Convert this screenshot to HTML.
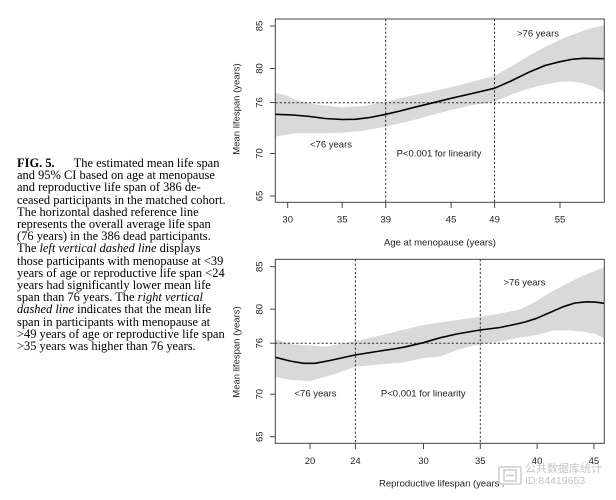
<!DOCTYPE html>
<html>
<head>
<meta charset="utf-8">
<style>
  html,body{margin:0;padding:0;background:#fff;}
  body{width:616px;height:500px;position:relative;overflow:hidden;}
  .cap{position:absolute;left:17px;top:157px;font-family:"Liberation Serif","Times New Roman",serif;font-size:12.45px;line-height:12.2px;color:#000;white-space:nowrap;}
  .gap{display:inline-block;width:19px;}
  svg{position:absolute;left:0;top:0;}
  svg text{font-family:"Liberation Sans",Arial,sans-serif;fill:#222;}
</style>
</head>
<body>
<div class="cap"><b>FIG. 5.</b><span class="gap"></span>The estimated mean life span<br>and 95% CI based on age at menopause<br>and reproductive life span of 386 de-<br>ceased participants in the matched cohort.<br>The horizontal dashed reference line<br>represents the overall average life span<br>(76 years) in the 386 dead participants.<br>The <i>left vertical dashed line</i> displays<br>those participants with menopause at &lt;39<br>years of age or reproductive life span &lt;24<br>years had significantly lower mean life<br>span than 76 years. The <i>right vertical</i><br><i>dashed line</i> indicates that the mean life<br>span in participants with menopause at<br>&gt;49 years of age or reproductive life span<br>&gt;35 years was higher than 76 years.</div>

<svg width="616" height="500" viewBox="0 0 616 500" xmlns="http://www.w3.org/2000/svg">
  <!-- ============ TOP PLOT ============ -->
  <polygon fill="#d9d9d9" stroke="none" points="275.5,92.7 286,95.5 296.7,100 315,104.5 341.7,107.3 365,106 385.7,101.7 410,96 430,92 451,87.3 475,81 494.3,76 512,66 530,55 545,47 563.3,38.3 585,30 604.3,25 604.3,91.7 595,87 583.3,83.3 572,81.5 560,81.7 545,84.5 530,88.3 510,95 494.3,101.7 470,105.5 451,110 430,115.5 410,121 385.7,126.7 365,130.5 341.7,132.7 320,133.2 296.7,133.3 286,134.8 275.5,136.7"/>
  <line x1="275.5" y1="102.7" x2="604.3" y2="102.7" stroke="#333" stroke-width="1" stroke-dasharray="2.2,2"/>
  <line x1="385.7" y1="19" x2="385.7" y2="202.3" stroke="#333" stroke-width="1" stroke-dasharray="2.2,2"/>
  <line x1="494.5" y1="19" x2="494.5" y2="202.3" stroke="#333" stroke-width="1" stroke-dasharray="2.2,2"/>
  <polyline fill="none" stroke="#000" stroke-width="1.6" stroke-linejoin="round" points="275.5,114.3 293,115 310,116.5 325,118.5 341.7,119.5 355,119.3 370,117.5 385.7,114.3 400,111 416.7,106.7 435,102.3 451,98.3 470,94 494.3,88.3 510,81.5 530,71.7 545,65.5 560,61.7 572,59.3 583.3,58.3 604.3,58.7"/>
  <rect x="275.3" y="19" width="329" height="183.3" fill="none" stroke="#444" stroke-width="1"/>
  <g stroke="#444" stroke-width="1">
    <line x1="270" y1="26" x2="275.3" y2="26"/>
    <line x1="270" y1="68.5" x2="275.3" y2="68.5"/>
    <line x1="270" y1="102.5" x2="275.3" y2="102.5"/>
    <line x1="270" y1="153.5" x2="275.3" y2="153.5"/>
    <line x1="270" y1="196" x2="275.3" y2="196"/>
    <line x1="287.7" y1="202.3" x2="287.7" y2="208"/>
    <line x1="342.2" y1="202.3" x2="342.2" y2="208"/>
    <line x1="385.7" y1="202.3" x2="385.7" y2="208"/>
    <line x1="451.1" y1="202.3" x2="451.1" y2="208"/>
    <line x1="494.6" y1="202.3" x2="494.6" y2="208"/>
    <line x1="560" y1="202.3" x2="560" y2="208"/>
  </g>
  <g font-size="9.5" text-anchor="middle" dominant-baseline="central">
    <text x="260" y="26" transform="rotate(-90 260 26)">85</text>
    <text x="260" y="68.5" transform="rotate(-90 260 68.5)">80</text>
    <text x="260" y="102.5" transform="rotate(-90 260 102.5)">76</text>
    <text x="260" y="153.5" transform="rotate(-90 260 153.5)">70</text>
    <text x="260" y="196" transform="rotate(-90 260 196)">65</text>
    <text x="287.7" y="220">30</text>
    <text x="342.2" y="220">35</text>
    <text x="385.7" y="220">39</text>
    <text x="451.1" y="220">45</text>
    <text x="494.6" y="220">49</text>
    <text x="560" y="220">55</text>
    <text x="440" y="243">Age at menopause (years)</text>
    <text x="237" y="109" transform="rotate(-90 237 109)">Mean lifespan (years)</text>
    <text x="331" y="145">&lt;76 years</text>
    <text x="439" y="154">P&lt;0.001 for linearity</text>
    <text x="538" y="34">&gt;76 years</text>
  </g>

  <!-- ============ BOTTOM PLOT ============ -->
  <polygon fill="#d9d9d9" stroke="none" points="275.3,339.3 293.3,344.5 310,345.5 326.7,346.5 355,341 380,335.5 400,330.5 423.3,325 440,322.5 456.7,320 480,316.7 500,313.5 520,309.5 536.7,301 550,292.5 563.3,285.5 580,277 604.3,267.3 604.3,338.3 595,334 583.3,331.7 570,330.5 553.3,330.5 536.7,335 520,337.5 500,341.5 480,344 456.7,350 440,356.5 423.3,358 403.3,362.5 380,364.5 355,366.7 335,374 310,381 290,380 275.3,376.7"/>
  <line x1="275.3" y1="343.2" x2="604.3" y2="343.2" stroke="#333" stroke-width="1" stroke-dasharray="2.2,2"/>
  <line x1="355.4" y1="259.3" x2="355.4" y2="443.3" stroke="#333" stroke-width="1" stroke-dasharray="2.2,2"/>
  <line x1="480.3" y1="259.3" x2="480.3" y2="443.3" stroke="#333" stroke-width="1" stroke-dasharray="2.2,2"/>
  <polyline fill="none" stroke="#000" stroke-width="1.6" stroke-linejoin="round" points="275.3,357.3 290,361 303.3,363.3 315,363.3 330,360.5 355,355 380,351 393.3,349 403.3,347.3 423.3,342.7 440,337.8 456.7,334 480,330 500,327.5 516.7,324 525,322 536.7,318.3 550,312.5 563.3,306.7 575,303 586.7,301.8 596,302.2 604.3,303.3"/>
  <rect x="275.3" y="259.3" width="329" height="184" fill="none" stroke="#444" stroke-width="1"/>
  <g stroke="#444" stroke-width="1">
    <line x1="270" y1="266.7" x2="275.3" y2="266.7"/>
    <line x1="270" y1="309.2" x2="275.3" y2="309.2"/>
    <line x1="270" y1="343.2" x2="275.3" y2="343.2"/>
    <line x1="270" y1="394.2" x2="275.3" y2="394.2"/>
    <line x1="270" y1="436.7" x2="275.3" y2="436.7"/>
    <line x1="310" y1="443.3" x2="310" y2="449"/>
    <line x1="355.4" y1="443.3" x2="355.4" y2="449"/>
    <line x1="423.5" y1="443.3" x2="423.5" y2="449"/>
    <line x1="480.3" y1="443.3" x2="480.3" y2="449"/>
    <line x1="537.1" y1="443.3" x2="537.1" y2="449"/>
    <line x1="593.9" y1="443.3" x2="593.9" y2="449"/>
  </g>
  <g font-size="9.5" text-anchor="middle" dominant-baseline="central">
    <text x="260" y="266.7" transform="rotate(-90 260 266.7)">85</text>
    <text x="260" y="309.2" transform="rotate(-90 260 309.2)">80</text>
    <text x="260" y="343.2" transform="rotate(-90 260 343.2)">76</text>
    <text x="260" y="394.2" transform="rotate(-90 260 394.2)">70</text>
    <text x="260" y="436.7" transform="rotate(-90 260 436.7)">65</text>
    <text x="310" y="461.5">20</text>
    <text x="355.4" y="461.5">24</text>
    <text x="423.5" y="461.5">30</text>
    <text x="480.3" y="461.5">35</text>
    <text x="537.1" y="461.5">40</text>
    <text x="593.9" y="461.5">45</text>
    <text x="237" y="352" transform="rotate(-90 237 352)">Mean lifespan (years)</text>
    <text x="315.5" y="394">&lt;76 years</text>
    <text x="423.3" y="394">P&lt;0.001 for linearity</text>
    <text x="524.5" y="283">&gt;76 years</text>
  </g>
  <text x="379" y="484" font-size="9.5" dominant-baseline="central">Reproductive lifespan (years .</text>

  <!-- watermark -->
  <g opacity="0.9">
    <rect x="499" y="467" width="22" height="17" fill="#fff" stroke="#c8c8c8" stroke-width="1.5" rx="1"/>
    <rect x="504" y="470" width="12" height="11" fill="none" stroke="#c8c8c8" stroke-width="1.5"/>
    <line x1="506" y1="475.5" x2="514" y2="475.5" stroke="#c8c8c8" stroke-width="1.5"/>
  </g>
  <text x="525" y="469" font-size="11" style="fill:#c4c4c4;font-family:'Liberation Sans','Noto Sans CJK SC',sans-serif" dominant-baseline="central">公共数据库统计</text>
  <text x="525" y="481" font-size="10.5" style="fill:#c4c4c4" dominant-baseline="central">ID:84419653</text>
</svg>
</body>
</html>
